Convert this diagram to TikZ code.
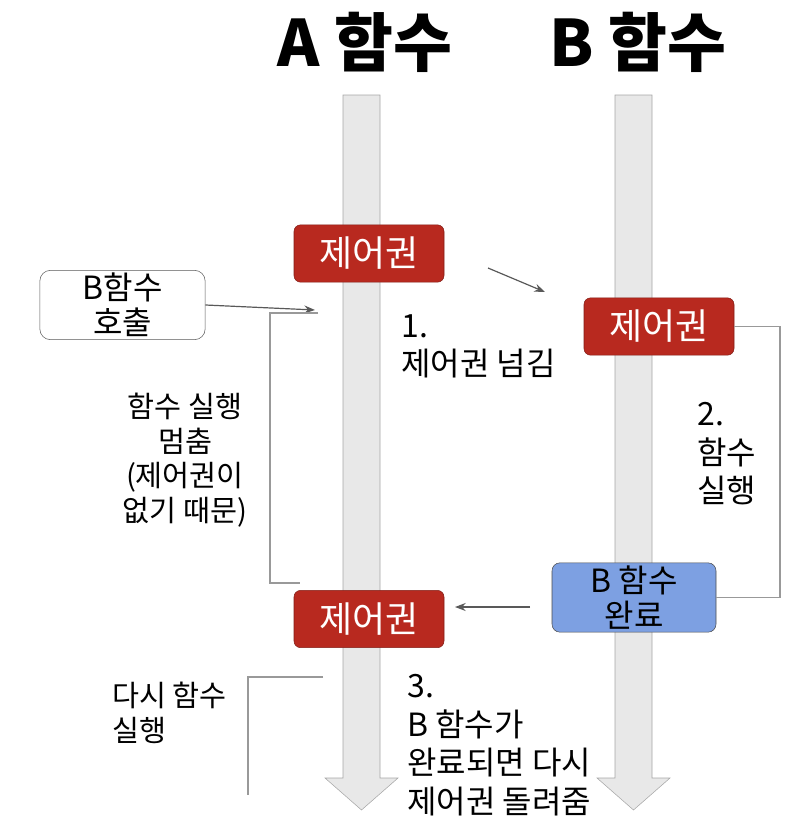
\documentclass[tikz,border=0pt]{standalone}
\usepackage{fontspec}
\setmainfont{Noto Sans CJK KR}
\usetikzlibrary{arrows.meta}
\definecolor{redbox}{HTML}{B8291F}
\definecolor{bluebox}{HTML}{7DA0E2}
\definecolor{shaft}{HTML}{E8E8E8}
\tikzset{
  redctl/.style={draw=redbox!70!black,fill=redbox,rounded corners=5pt,text=white,minimum width=112.5pt,minimum height=43pt,font=\fontsize{27}{30}\selectfont},
  txt/.style={align=left,anchor=north west,font=\fontsize{24}{29}\selectfont,inner sep=0},
  ltxt/.style={align=left,anchor=north west,font=\fontsize{22}{26}\selectfont,inner sep=0},
  ln/.style={draw=gray!80,line width=0.9pt},
  arr/.style={ln,-{Stealth[length=8pt,width=6pt]},draw=gray!70!black}
}
\begin{document}
\begin{tikzpicture}[x=0.75pt,y=-0.75pt]
\useasboundingbox (0,0) rectangle (800,835);
% titles
\node (ta) at (365,42) {\fontsize{48}{52}\selectfont\bfseries A 함수};
\node (tb) at (638,42) {\fontsize{48}{52}\selectfont\bfseries B 함수};
% shafts
\foreach \c in {361.5,633.5}{
 \draw[fill=shaft,draw=gray!70] (\c-18.5,95) -- (\c+18.5,95) -- (\c+18.5,778) -- (\c+36.5,778) -- (\c,810) -- (\c-36.5,778) -- (\c-18.5,778) -- cycle;
}
% boxes
\node[redctl] (r1) at (369,253.5) {제어권};
\node[redctl] (r2) at (659,326.5) {제어권};
\node[redctl] (r3) at (369,619) {제어권};
\node[draw=gray!60!black,fill=bluebox,rounded corners=6pt,minimum width=123pt,minimum height=52pt,align=center,font=\fontsize{24}{26}\selectfont,inner sep=0] (bl) at (634,597.5) {B 함수\\완료};
\node[draw=gray!70!black,fill=white,rounded corners=8pt,minimum width=124pt,minimum height=52pt,align=center,font=\fontsize{24}{26}\selectfont,inner sep=0] (call) at (122.5,305) {B함수\\호출};
% arrows
\coordinate (p1) at (315,310);
\draw[arr] (call.east) -- (p1);
\coordinate (s1) at (488,268); \coordinate (s2) at (545,292);
\draw[arr] (s1) -- (s2);
\coordinate (q1) at (530,607); \coordinate (q2) at (455,607);
\draw[arr] (q1) -- (q2);
% B loop
\draw[ln] (r2.east) -- (780,326.5) -- (780,597.5) -- (bl.east);
% bracket
\coordinate (b1) at (318,313); \coordinate (b2) at (300,583);
\draw[ln] (b1) -- (270,313) -- (270,583) -- (b2);
\coordinate (c1) at (323,677); \coordinate (c2) at (248,795);
\draw[ln] (c1) -- (248,677) -- (c2);
% texts
\node[txt] (t1) at (401,314) {1.\\제어권 넘김};
\node[txt] (t2) at (697,402) {2.\\함수\\실행};
\node[ltxt,align=center,anchor=center] (t3) at (185,460) {함수 실행\\멈춤\\(제어권이\\없기 때문)};
\node[ltxt] (t4) at (112,682) {다시 함수\\실행};
\node[txt] (t5) at (407,674) {3.\\B 함수가\\완료되면 다시\\제어권 돌려줌};
\end{tikzpicture}
\end{document}
